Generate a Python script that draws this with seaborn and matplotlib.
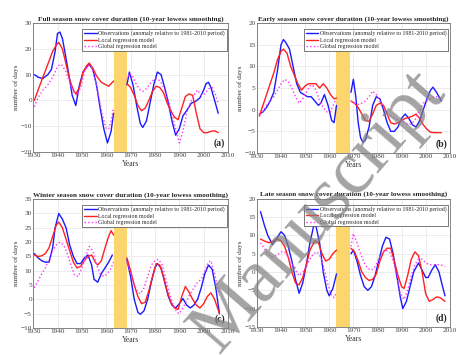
import numpy as np
import pandas as pd
import matplotlib
matplotlib.use("Agg")
import matplotlib.pyplot as plt
import seaborn as sns
from matplotlib.lines import Line2D

# ---- (a) full season ----
a_obs_yr = [1930.5, 1932, 1934, 1936, 1937.5, 1939, 1940, 1941, 1942, 1943, 1945, 1946, 1947.5, 1949, 1950.5, 1952, 1953, 1954.5, 1956, 1957.5, 1959, 1960.5, 1962, 1963,
            1968.5, 1969.5, 1971, 1972.5, 1974, 1975, 1976.5, 1978, 1979.5, 1981, 1982.5, 1984, 1985.5, 1987, 1988.5, 1990, 1991.5, 1993, 1995, 1996.5, 1998.5, 2000, 2001, 2002, 2003, 2004.5, 2006]
a_obs = [10, 9, 8.5, 10, 12, 19, 26, 26.5, 24, 19, 8, 2, -2, 6, 11, 13, 14, 12, 6, -3, -11, -16.5, -12, -5,
         6, 11, 6, -2, -9, -10.5, -8, -1, 6, 11, 10, 5, -1, -8, -13.5, -11, -6, -4, -1, -0.5, 1, 4, 6.5, 7, 5, 0, -5]
a_loc_yr = [1930.5, 1932, 1934, 1936, 1938, 1939.5, 1940.5, 1942, 1943.5, 1945, 1946.5, 1947.5, 1949, 1950.5, 1952, 1953, 1954.5, 1956, 1958, 1960, 1961, 1962, 1963,
            1968.5, 1970, 1971.5, 1973, 1974.5, 1976, 1977.5, 1979, 1980.5, 1982, 1983.5, 1985, 1986.5, 1988, 1989.5, 1991, 1992.5, 1994, 1995.5, 1997, 1998.5, 2000, 2001.5, 2003, 2004.5, 2006]
a_loc = [0, 4, 9, 14, 19, 21.5, 22.5, 20, 14, 8, 4, 2.5, 5, 11, 13.5, 14.5, 12.5, 9.5, 7, 6, 5.5, 6.5, 7.5,
         6.5, 5, 2, -2, -4, -3, 0, 3.5, 5.5, 5, 3, -1, -4, -6.5, -7.5, -3, 1.5, 2.5, 2, -5, -11, -12.5, -12.5, -12, -11.8, -12.5]
a_glob_yr = [1930.5, 1932, 1934, 1936, 1938, 1940, 1941, 1942, 1943.5, 1945, 1946.5, 1948, 1949.5, 1951, 1952.5, 1954, 1955.5, 1957, 1958.5, 1960, 1961, 1962, 1963,
             1968.5, 1969.5, 1971, 1972.5, 1974, 1975, 1976.5, 1978, 1979.5, 1981, 1982.5, 1984, 1985.5, 1987, 1988.5, 1990, 1991.5, 1993, 1994.5, 1996, 1997.5, 1999, 2000.5, 2002, 2003.5, 2005, 2006]
a_glob = [-2.5, 1, 4, 6, 9, 13, 14, 13.5, 11, 7, 3.5, 2, 5, 11, 13.5, 13, 8, 1, -6, -11, -11, -8, -3,
          8, 10.5, 9, 6, 4, 3.5, 4.5, 6.5, 8, 8.5, 7, 4, 0, -5, -11, -16.5, -12, -5, -1, 2, 4, 2, 2.5, 4.5, 5, 2, -1.5]

# ---- (b) early season ----
b_obs_yr = [1931, 1932.5, 1934, 1935.5, 1937, 1938.5, 1940, 1941, 1942, 1943.5, 1945, 1946.5, 1948, 1949.5, 1951, 1952.5, 1954, 1955.5, 1956.5, 1958, 1959.5, 1961, 1962, 1963,
            1969, 1970, 1971, 1972, 1973, 1974, 1975, 1976.5, 1978, 1979.5, 1981, 1982.5, 1984, 1985.5, 1987, 1988.5, 1990, 1991.5, 1993, 1994.5, 1996, 1997.5, 1999, 2000.5, 2002, 2003, 2004.5, 2006.5]
b_obs = [-1, -0.5, 0.5, 2, 4, 9, 15, 16.2, 15.5, 14, 10, 6, 4, 3.5, 3, 3, 2, 1, 1.5, 3.5, 1, -2.5, -3, 1,
         4, 7, 3, -3, -6.5, -7.5, -7, -4, 1, 3, 2.5, 0, -3, -5, -5, -4, -2, -1, -2, -3.5, -4, -2.5, 0, 2.5, 4.5, 5.2, 4, 2]
b_loc_yr = [1931, 1932.5, 1934, 1935.5, 1937, 1938.5, 1940, 1941, 1942.5, 1944, 1945.5, 1947, 1948.5, 1950, 1951.5, 1953, 1954.5, 1956, 1957.5, 1959, 1960.5, 1962, 1963,
            1969, 1970.5, 1972, 1973.5, 1975, 1976.5, 1978, 1979.5, 1981, 1982.5, 1984, 1985.5, 1987, 1988.5, 1990, 1991.5, 1993, 1994.5, 1996, 1997.5, 1999, 2000.5, 2002, 2003.5, 2005, 2006.5]
b_loc = [-1.5, 1, 3.5, 6, 8.5, 11.5, 13.5, 14, 13, 10, 8, 6, 4.5, 5.5, 6, 6, 6, 5, 6, 5, 3.5, 2.5, 2.7,
         2, 1.5, 0.5, -1, -2.5, -2.7, -1, 1, 1.5, 1, -1, -3, -3.3, -3, -2.5, -2, -1.8, -1.5, -1, -2, -3.5, -4.5, -5.2, -5.3, -5.3, -5.3]
b_glob_yr = [1931, 1932.5, 1934, 1935.5, 1937, 1938.5, 1940, 1941.5, 1943, 1944.5, 1946, 1947.5, 1949, 1950.5, 1952, 1953, 1954.5, 1956, 1957.5, 1959, 1960.5, 1962, 1963,
             1969, 1970.5, 1972, 1973.5, 1975, 1976.5, 1978, 1979.5, 1981, 1982.5, 1984, 1985.5, 1987, 1988.5, 1990, 1991.5, 1993, 1994.5, 1996, 1997.5, 1999, 2000.5, 2002, 2003.5, 2005, 2006.5]
b_glob = [-1, -0.5, 1, 2, 3, 4.5, 6, 7, 6.5, 5, 3, 1.5, 2.5, 4, 5.5, 5.7, 4.5, 2, 0.5, -0.5, -0.5, 1.5, 2.5,
          2, 1.5, 1.2, 1.5, 2, 3, 4.3, 3.5, 2, 0.5, -1, -1.5, -2, -2.3, -2.5, -3, -3.5, -3, -2, 0, 1.5, 2, 2.5, 3, 3, 2.5]

# ---- (c) winter season ----
c_obs_yr = [1930.5, 1932, 1933.5, 1935, 1936.5, 1938, 1939, 1940.5, 1942, 1943.5, 1945, 1946.5, 1948, 1949.5, 1951, 1952.5, 1954, 1955, 1956.5, 1958, 1959.5, 1961, 1962.5,
            1968.5, 1970, 1971.5, 1973, 1974, 1975.5, 1977, 1978.5, 1980, 1981, 1982.5, 1984, 1985.5, 1987, 1988.5, 1990, 1991.5, 1993, 1994.5, 1996, 1997.5, 1999, 2000.5, 2002, 2003.5, 2005, 2006.5]
c_obs = [16, 14.5, 13.5, 13, 13, 18, 25, 30, 28, 25, 19, 15, 12.5, 12.5, 14.5, 15.5, 12, 7, 6, 9, 11, 13, 15.5,
         14, 8, 0, -4.5, -5.2, -4, 0, 6, 11, 12.5, 11, 6, 1, -2, -3, -1.5, 0.3, -2, -3, -2, 0, 4, 9, 12, 10.5, 4, -5]
c_loc_yr = [1930.5, 1932, 1933.5, 1935, 1936.5, 1938, 1939.5, 1940.5, 1942, 1943.5, 1945, 1946.5, 1948, 1949.5, 1951, 1952.5, 1954, 1955.5, 1956.5, 1958, 1959.5, 1961, 1962, 1963,
            1968.5, 1970, 1971.5, 1973, 1974.5, 1976, 1977.5, 1979, 1980.5, 1982, 1983.5, 1985, 1986.5, 1988, 1989.5, 1991, 1992.5, 1994, 1995.5, 1997, 1998.5, 2000, 2001.5, 2003, 2004.5, 2006.5]
c_loc = [15.5, 15, 15.2, 16, 18, 22, 26, 27, 25, 21, 17, 13, 11, 11.5, 13.5, 15, 15.5, 13, 12, 13.5, 18, 22, 24, 22.5,
         14.5, 10, 5, 1, -1.5, -1, 3, 8, 12.5, 12, 8, 3, -1, -3, -3.5, 1, 4.5, 2.5, 0, -2, -3, -1.5, 1, 2.3, 0, -5]
c_glob_yr = [1930.5, 1932, 1933.5, 1935, 1936.5, 1938, 1939.5, 1941, 1942.5, 1944, 1945.5, 1947, 1948.5, 1950, 1951.5, 1953, 1954.5, 1956, 1957.5, 1959, 1960.5, 1962, 1963,
             1968.5, 1970, 1971.5, 1973, 1974, 1975.5, 1977, 1978.5, 1980, 1981.5, 1983, 1984.5, 1986, 1987.5, 1989, 1990, 1991.5, 1993, 1994.5, 1996, 1997.5, 1999, 2000.5, 2002, 2003, 2004.5, 2006.5]
c_glob = [4, 6.5, 9, 11, 14, 17, 19, 20, 19, 16, 12, 8.5, 8, 11, 15, 18.5, 17, 12, 9, 8, 9, 11, 13,
          13, 9, 5, 2.5, 2, 4, 8, 12, 13.5, 14, 12, 7, 2, -2, -4.5, -5, -3, -0.5, 2, 4, 6, 7, 10, 13, 13.5, 9, 1.5]

# ---- (d) late season ----
d_obs_yr = [1931.5, 1933, 1934.5, 1936.5, 1938, 1940, 1941.5, 1943, 1944.5, 1946, 1947.5, 1949, 1950.5, 1952, 1953.5, 1954.5, 1956, 1957.5, 1959, 1960, 1961.5, 1963,
            1969, 1970, 1971.5, 1973, 1974.5, 1976, 1977.5, 1979, 1980.5, 1982, 1983.5, 1985, 1986.5, 1988, 1989.5, 1990.5, 1992, 1993.5, 1995, 1997, 1998.5, 2000, 2001, 2002.5, 2004, 2005.5, 2007, 2008]
d_obs = [16.5, 13, 10, 7.5, 9, 11, 10, 7, 3, -2, -5.8, -3, 2, 8, 12.5, 12.5, 8, 0, -5, -6.5, -4.5, -0.5,
         5, 6, 3, -1, -4, -5, -4, -1, 3, 7, 9.5, 9, 5, -1, -7, -10, -8, -4, 0, 2.5, 0.5, -1.5, -1.5, 0.5, 2, 0, -4, -6.5]
d_loc_yr = [1931.5, 1933, 1935, 1937, 1938.5, 1940, 1941.5, 1943, 1944.5, 1946, 1947.5, 1949, 1950.5, 1952, 1954, 1955.5, 1957, 1958.5, 1960, 1961.5, 1963,
            1969, 1970.5, 1972, 1973.5, 1975, 1976.5, 1978, 1979.5, 1981, 1982.5, 1984, 1985.5, 1987, 1988.5, 1990, 1991, 1992.5, 1994, 1995.5, 1997, 1998.5, 2000, 2001.5, 2003, 2004.5, 2006, 2008]
d_loc = [9, 8.5, 8, 8.5, 9, 8.5, 7, 4, 0, -3, -3.5, -1.5, 2, 6, 8.5, 8, 5, 3, 3.5, 5, 6,
         6.5, 5.5, 3, 0, -1.5, -2.3, -2, -0.5, 3, 5.5, 6.5, 6.5, 3, -1, -4, -4.5, -1, 3.5, 5.5, 4.5, 0, -6, -8, -7.5, -6.8, -7, -8]
d_glob_yr = [1931.5, 1933, 1934.5, 1936, 1938, 1940, 1941.5, 1943, 1944.5, 1946, 1947.5, 1949, 1950.5, 1952, 1953.5, 1955, 1956.5, 1958, 1959.5, 1961, 1962, 1963,
             1969, 1970, 1971.5, 1973, 1974.5, 1976, 1977.5, 1979, 1980.5, 1982, 1983.5, 1985, 1986.5, 1988, 1989.5, 1991, 1992.5, 1994, 1995.5, 1997, 1998.5, 2000, 2001.5, 2003, 2004.5, 2006, 2008]
d_glob = [8, 6.5, 5, 4, 4.5, 5.5, 5.5, 4, 2.5, 0.5, -1, 0, 1.5, 3.5, 5, 5.5, 4, 0.5, -3.5, -6.5, -7, -5.5,
          7, 10.5, 8, 5, 2.5, 1, 0.5, 1.5, 3.5, 5.5, 6, 5.5, 3, -1, -6, -7.5, -5, -1, 2, 3.5, 3.5, 2.5, 2, 2, 2, 2, 1.5]

titles = ["Full season snow cover duration (10-year lowess smoothing)",
          "Early season snow cover duration (10-year lowess smoothing)",
          "Winter season snow cover duration (10-year lowess smoothing)",
          "Late season snow cover duration (10-year lowess smoothing)"]
panel_tags = ["(a)", "(b)", "(c)", "(d)"]
legend_labels = ["Observations (anomaly relative to 1981-2010 period)",
                 "Local regression model", "Global regression model"]
gap_years = [1963, 1968.5]

sns.set_theme(style="whitegrid")
plt.rcParams["font.family"] = ["Liberation Serif", "DejaVu Serif"]

fig = plt.figure(figsize=(4.74, 3.55), dpi=100)
positions = [[0.070, 0.572, 0.411, 0.363],
             [0.542, 0.569, 0.407, 0.366],
             [0.070, 0.076, 0.411, 0.363],
             [0.542, 0.079, 0.407, 0.361]]
ylims = [(-20, 30, 10), (-10, 20, 5), (-10, 35, 5), (-15, 20, 5)]
band_top = [19.5, 13.5, 26.5, 13.5]   # yellow band stops just under the legend
panels = [
    [(a_obs_yr, a_obs), (a_loc_yr, a_loc), (a_glob_yr, a_glob)],
    [(b_obs_yr, b_obs), (b_loc_yr, b_loc), (b_glob_yr, b_glob)],
    [(c_obs_yr, c_obs), (c_loc_yr, c_loc), (c_glob_yr, c_glob)],
    [(d_obs_yr, d_obs), (d_loc_yr, d_loc), (d_glob_yr, d_glob)],
]
colors = ["#1a1aff", "#ff2020", "#ff33ff"]
styles = ["-", "-", ":"]

for i, series in enumerate(panels):
    ax = fig.add_axes(positions[i])
    lo, hi, step = ylims[i]
    ax.fill_between(gap_years, lo, band_top[i], color="#fdd56e", lw=0, zorder=1)
    for (yr, vals), col, ls in zip(series, colors, styles):
        df = pd.DataFrame({"year": yr, "days": vals})
        for seg in (df[df["year"] < 1966], df[df["year"] > 1966]):
            sns.lineplot(data=seg, x="year", y="days", ax=ax, color=col, linestyle=ls,
                         lw=1.0, errorbar=None, sort=False, legend=False, zorder=3)
    ax.set_xlim(1930, 2010)
    ax.set_ylim(lo, hi)
    ax.set_xticks(np.arange(1930, 2011, 10))
    ax.set_yticks(np.arange(lo, hi + 1, step))
    ax.tick_params(labelsize=5.2, length=1.5, pad=1, colors="#444444", direction="in")
    ax.grid(True, color="#e4e4e4", lw=0.5)
    for sp in ax.spines.values():
        sp.set_color("#555555")
        sp.set_linewidth(0.5)
    ax.set_title(titles[i], fontsize=5.2, fontweight="bold", pad=2)
    ax.set_xlabel("Years", fontsize=5.6, labelpad=1, color="#333333")
    ax.set_ylabel("number of days", fontsize=5.2, labelpad=1, color="#333333")
    ax.text(0.985, 0.03, panel_tags[i], transform=ax.transAxes, ha="right", va="bottom",
            fontsize=7, fontweight="bold", zorder=5)
    handles = [Line2D([], [], color=c, ls=s, lw=1.0) for c, s in zip(colors, styles)]
    leg = ax.legend(handles, legend_labels, loc="upper right", bbox_to_anchor=(0.993, 0.955),
                    fontsize=4.2, frameon=True, fancybox=False, framealpha=1,
                    edgecolor="#444444", handlelength=2.2, handletextpad=0.3,
                    borderpad=0.3, labelspacing=0.2, borderaxespad=0)
    leg.get_frame().set_linewidth(0.5)
    leg.set_zorder(6)

fig.text(0.672, 0.405, "Manuscript", fontsize=55, rotation=49, ha="center", va="center",
         color="#808080", alpha=0.72, zorder=10)

fig.savefig("out.png", dpi=100)
